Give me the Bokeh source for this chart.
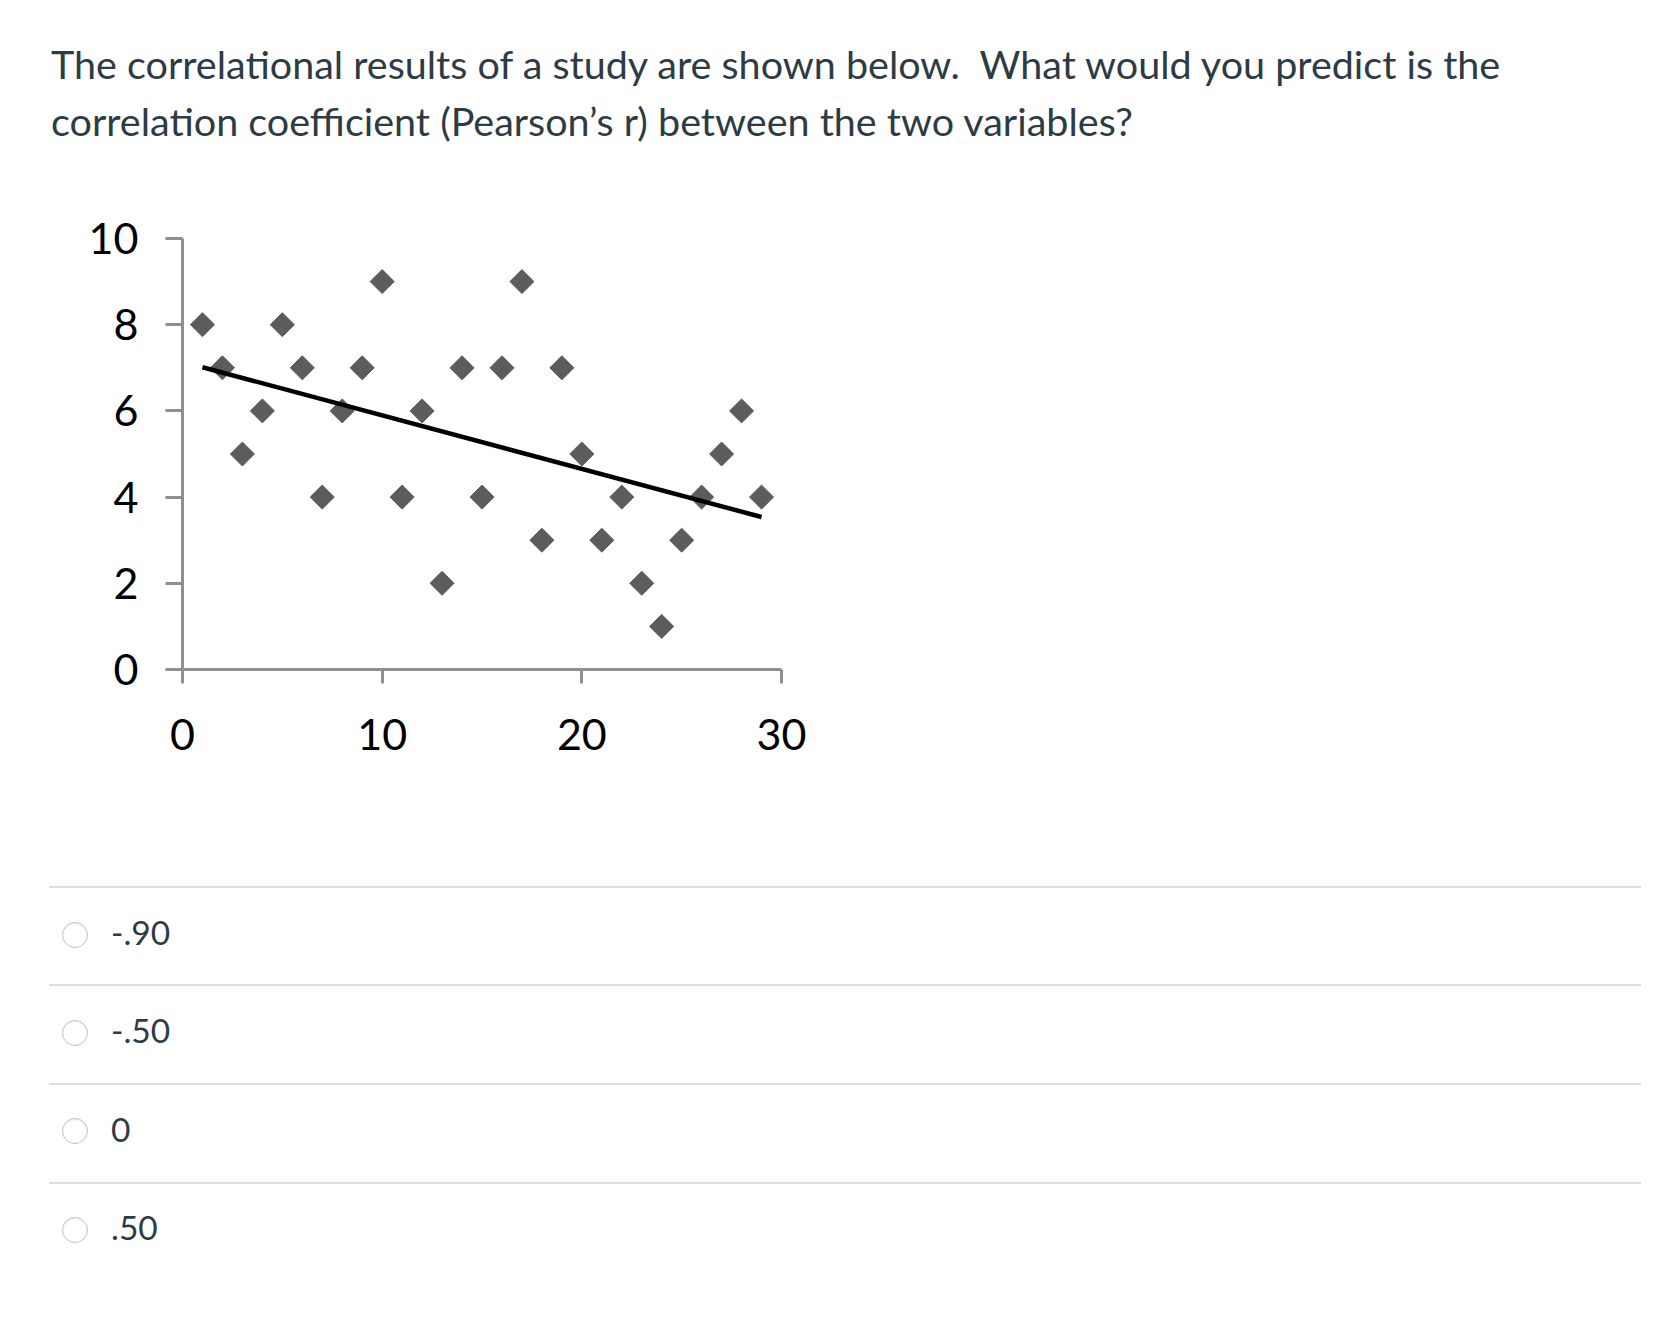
import numpy as np
from bokeh.plotting import figure
from bokeh.models import Div, FixedTicker, Range1d
from bokeh.layouts import column
from bokeh.embed import file_html
from bokeh.resources import INLINE

# ---- data ----
question_lines = [
    "The correlational results of a study are shown below.&nbsp; What would you predict is the",
    "correlation coefficient (Pearson\u2019s r) between the two variables?",
]
x_vals = list(range(1, 30))
y_vals = [8, 7, 5, 6, 8, 7, 4, 6, 7, 9, 4, 6, 2, 7, 4, 7, 9, 3, 7, 5, 3, 4, 2, 1, 3, 4, 5, 6, 4]
x_ticks = [0, 10, 20, 30]
y_ticks = [0, 2, 4, 6, 8, 10]
options = ["-.90", "-.50", "0", ".50"]

TEXT_COLOR = "#2d3b45"
PAGE_W = 1670

# ---- question text ----
q_fs = 39.5
q_base = [79, 136]
q_html = f'<div style="position:relative;width:{PAGE_W}px;height:178px;font-family:Lato;color:{TEXT_COLOR};">'
for i, line in enumerate(question_lines):
    top = q_base[i] - 0.887 * q_fs
    q_html += (f'<div style="position:absolute;left:51px;top:{top:.1f}px;font-size:{q_fs}px;'
               f'line-height:{q_fs}px;white-space:nowrap;">{line}</div>')
q_html += "</div>"
title_div = Div(text=q_html, width=PAGE_W, height=178, margin=0)

# ---- chart ----
p = figure(width=PAGE_W, height=682, output_backend="svg", toolbar_location=None,
           x_range=Range1d(0, 30), y_range=Range1d(0, 10),
           min_border_left=182, min_border_right=PAGE_W - 182 - 599,
           min_border_top=60, min_border_bottom=682 - 60 - 431)
p.margin = 0
p.outline_line_color = None
p.grid.visible = False
p.background_fill_color = "white"
p.border_fill_color = "white"

slope, intercept = np.polyfit(x_vals, y_vals, 1)
fx = [x_vals[0], x_vals[-1]]
fy = [intercept + slope * v for v in fx]

p.scatter(x_vals, y_vals, marker="square", size=17, angle=np.pi / 4,
          fill_color="#5c5c5c", line_color="#5c5c5c", line_width=1)
p.line(fx, fy, line_color="black", line_width=4.5)

AX = "#8f8f8f"
for ax, ticks, tick_out, standoff in ((p.xaxis[0], x_ticks, 14, 35), (p.yaxis[0], y_ticks, 17, 27)):
    ax.ticker = FixedTicker(ticks=ticks)
    ax.minor_tick_line_color = None
    ax.major_tick_in = 0
    ax.major_tick_out = tick_out
    ax.axis_line_color = AX
    ax.axis_line_width = 3
    ax.major_tick_line_color = AX
    ax.major_tick_line_width = 3
    ax.major_label_text_font = "Lato"
    ax.major_label_text_font_size = "43px"
    ax.major_label_text_color = "black"
    ax.major_label_standoff = standoff

# ---- answer options ----
o_fs = 33.5
o_top0 = 860
o_html = f'<div style="position:relative;width:{PAGE_W}px;height:452px;font-family:Lato;color:{TEXT_COLOR};">'
for i, opt in enumerate(options):
    sep_y = 886.7 + i * 98.6 - 1 - o_top0
    o_html += (f'<div style="position:absolute;left:49px;top:{sep_y:.1f}px;width:1592px;height:2px;'
               f'background:#dedede;"></div>')
    cy = 936 + i * 98.4 - o_top0
    o_html += (f'<div style="position:absolute;left:62px;top:{cy - 14.5:.1f}px;width:26px;height:26px;'
               f'border:1.5px solid #c2c2c2;border-radius:50%;background:#fff;'
               f'box-shadow:inset 0 1px 2px rgba(0,0,0,0.08);"></div>')
    base = 946 + i * 98.1 - o_top0
    o_html += (f'<div style="position:absolute;left:111px;top:{base - 0.887 * o_fs:.1f}px;font-size:{o_fs}px;'
               f'line-height:{o_fs}px;white-space:nowrap;">{opt}</div>')
o_html += "</div>"
opts_div = Div(text=o_html, width=PAGE_W, height=452, margin=0)

layout = column(title_div, p, opts_div, spacing=0, margin=0)
open("out.html", "w").write(file_html(layout, INLINE))
